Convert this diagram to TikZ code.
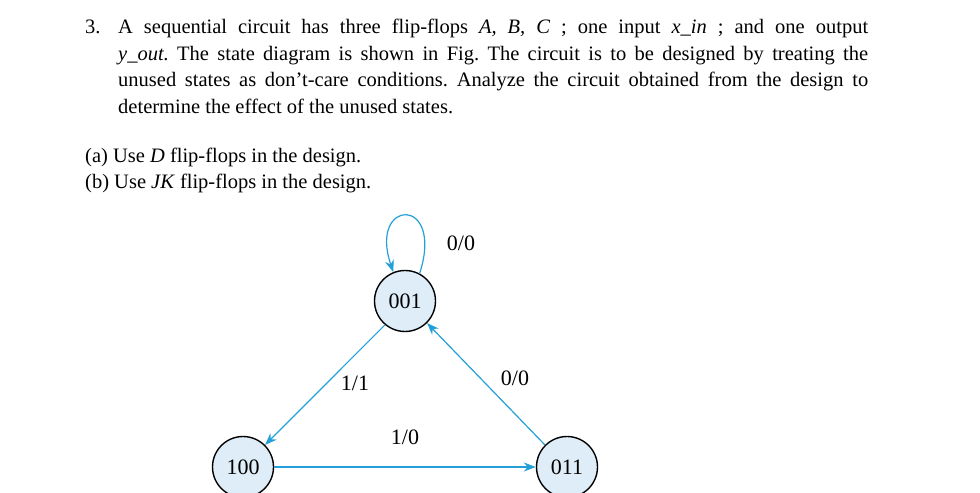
\documentclass[tikz,border=0pt]{standalone}
\usepackage{fontspec}
\setmainfont{Liberation Serif}
\usetikzlibrary{arrows.meta}
\definecolor{arr}{RGB}{35,160,215}
\definecolor{sfill}{RGB}{222,237,248}
\tikzset{
  state/.style={circle,draw=black,line width=1.4pt,fill=sfill,minimum size=61bp,inner sep=0pt,font=\fontsize{22bp}{24bp}\selectfont},
  tr/.style={draw=arr,line width=1.2pt,-{Stealth[length=12bp,width=9bp]}},
  lbl/.style={font=\fontsize{22bp}{24bp}\selectfont},
  txt/.style={anchor=base west,inner sep=0pt,font=\fontsize{20.5bp}{24bp}\selectfont}
}
\begin{document}
\frenchspacing
\begin{tikzpicture}[x=1bp,y=-1bp]
\useasboundingbox[fill=white] (0,0) rectangle (980,493);
\node[txt] (n3) at (85,34) {3.};
\node[txt] (l1) at (118,34) {\makebox[750bp][s]{A sequential circuit has three flip-flops \textit{A, B, C} ; one input \textit{x\_in} ; and one output}};
\node[txt] (l2) at (118,60.5) {\makebox[750bp][s]{\textit{y\_out.} The state diagram is shown in Fig. The circuit is to be designed by treating the}};
\node[txt] (l3) at (118,87) {\makebox[750bp][s]{unused states as don’t-care conditions. Analyze the circuit obtained from the design to}};
\node[txt] (l4) at (118,113.5) {determine the effect of the unused states.};
\node[txt] (la) at (85,163) {(a) Use \textit{D} flip-flops in the design.};
\node[txt] (lb) at (85,189) {(b) Use \textit{JK} flip-flops in the design.};
\node[state] (s001) at (405,301) {001};
\node[state] (s100) at (243,467) {100};
\node[state] (s011) at (567,467) {011};
\draw[tr] (s001.62) .. controls (445,195) and (368,198) .. (s001.112);
\draw[tr] (s001.230) -- (s100.45);
\draw[tr] (s100.east) -- (s011.west);
\draw[tr] (s011.135) -- (s001.315);
\node[lbl] (t1) at (461,243) {0/0};
\node[lbl] (t2) at (355,383) {1/1};
\node[lbl] (t3) at (405,437) {1/0};
\node[lbl] (t4) at (515,378) {0/0};
\end{tikzpicture}
\end{document}
